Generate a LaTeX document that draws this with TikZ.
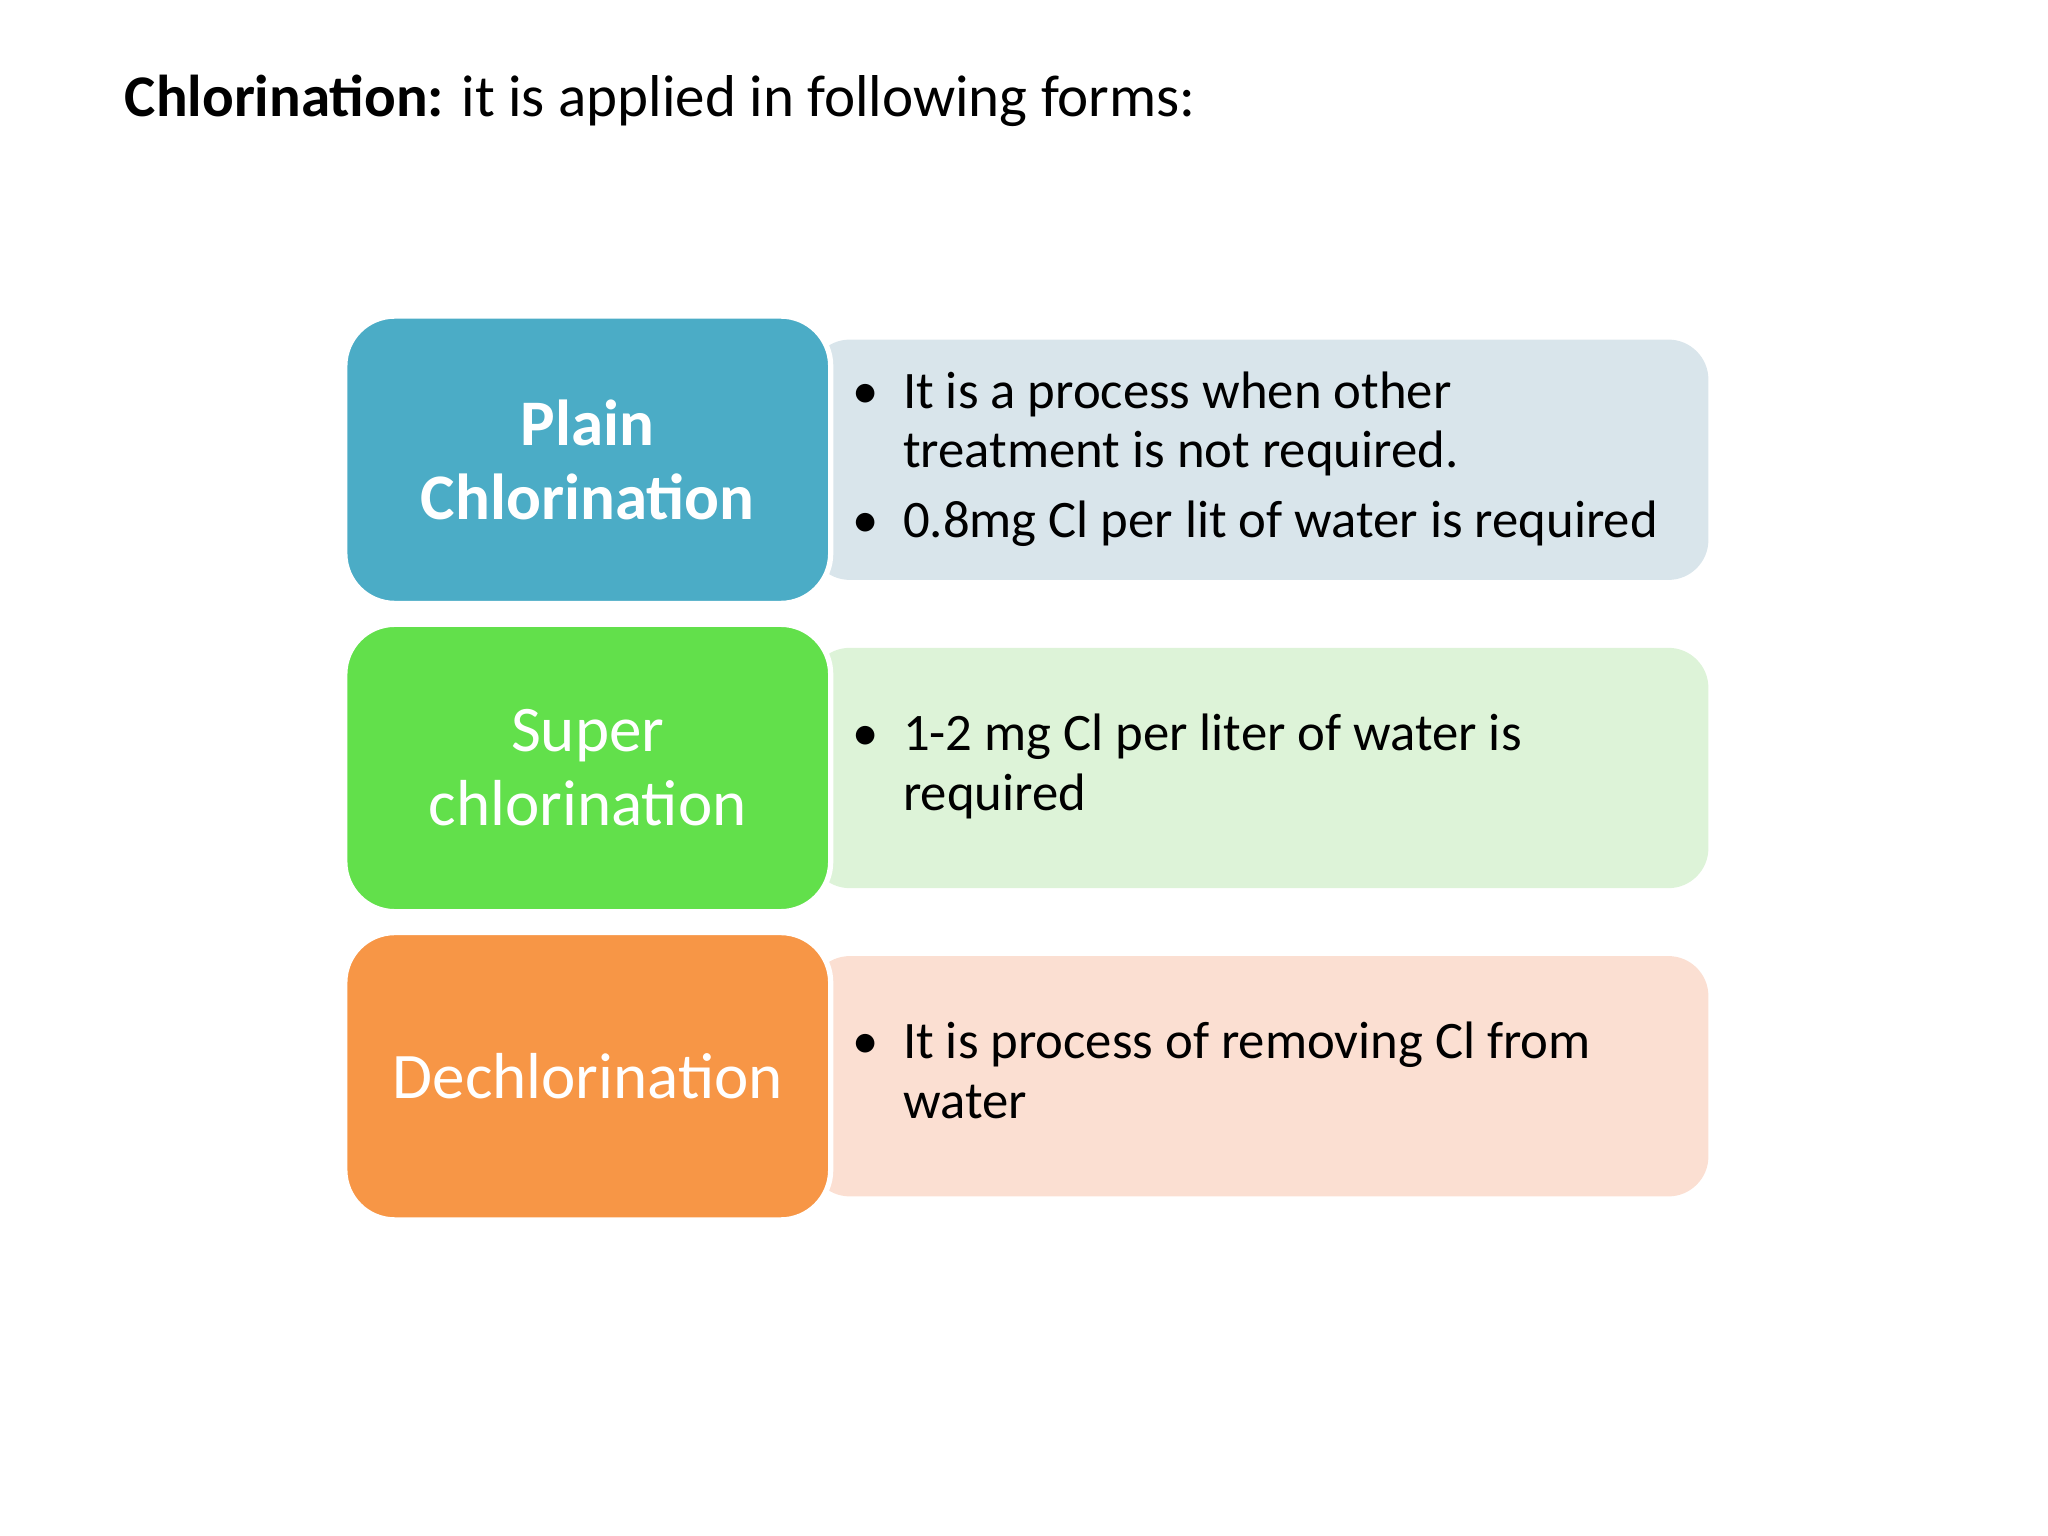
\documentclass[tikz,border=0pt]{standalone}
\usepackage{fontspec}
\setmainfont{Carlito}
\definecolor{cblue}{HTML}{4BACC6}
\definecolor{cgreen}{HTML}{62E04B}
\definecolor{corange}{HTML}{F79646}
\definecolor{lblue}{HTML}{D9E5EB}
\definecolor{lgreen}{HTML}{DDF3D8}
\definecolor{lorange}{HTML}{FBDFD2}
\newcommand{\bitem}[1]{\textbullet\hspace{7pt}#1}
\newcommand{\bind}{\hspace*{14.5pt}}
\begin{document}
\begin{tikzpicture}[x=0.01306cm,y=-0.01306cm,
  head/.style={draw=white,line width=1.5pt,rounded corners=0.5cm,text=white,align=center,font=\fontsize{18.5pt}{21pt}\selectfont},
  info/.style={rounded corners=0.4cm},
  btxt/.style={anchor=north west,align=left,font=\fontsize{15pt}{17pt}\selectfont,inner sep=0pt}]
\useasboundingbox (0,0) rectangle (1568,1176);
\node[anchor=west,font=\fontsize{16.8pt}{19pt}\selectfont,inner sep=0pt] (title) at (95,77) {\textbf{Chlorination:} it is applied in following forms:};
\fill[info,lblue] (620,260) rectangle (1308,444);
\fill[info,lgreen] (620,496) rectangle (1308,680);
\fill[info,lorange] (620,732) rectangle (1308,916);
\draw[head,fill=cblue] (264,242) rectangle (636,462) node[midway,font=\fontsize{18.5pt}{21pt}\selectfont\bfseries] (h1) {Plain\\Chlorination};
\draw[head,fill=cgreen] (264,478) rectangle (636,698) node[midway] (h2) {Super\\chlorination};
\draw[head,fill=corange] (264,714) rectangle (636,934) node[midway] (h3) {Dechlorination};
\node[btxt] (t1) at (652,284) {\bitem{It is a process when other}\\\bind treatment is not required.};
\node[btxt] (t1b) at (652,383) {\bitem{0.8mg Cl per lit of water is required}};
\node[btxt] (t2) at (652,546) {\bitem{1-2 mg Cl per liter of water is}\\\bind required};
\node[btxt] (t3) at (652,782) {\bitem{It is process of removing Cl from}\\\bind water};
\end{tikzpicture}
\end{document}
